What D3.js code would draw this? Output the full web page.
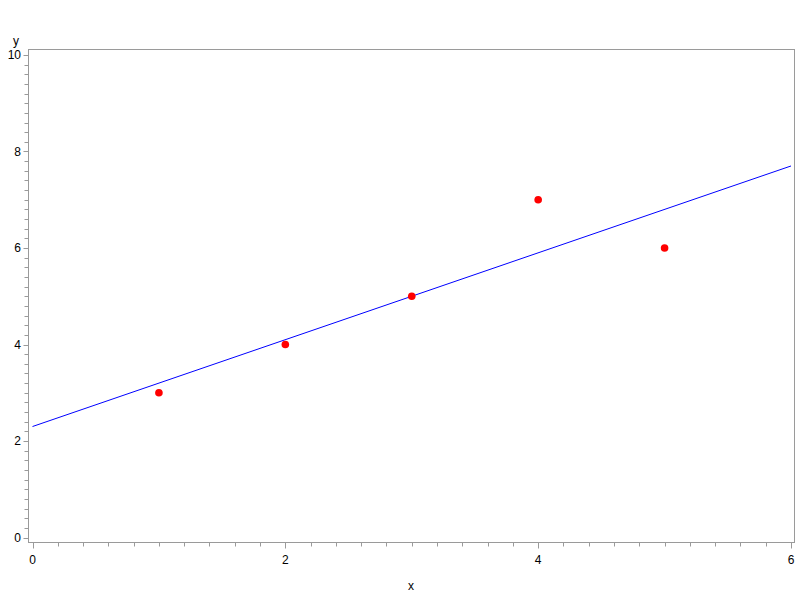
<!DOCTYPE html>
<html>
<head>
<meta charset="utf-8">
<script src="https://cdnjs.cloudflare.com/ajax/libs/d3/7.8.5/d3.min.js"></script>
<style>
	body { margin: 0; background: #fff; }
	text { font-family: "Liberation Sans", Arial, sans-serif; font-size: 12px; fill: #000; }
</style>
</head>
<body>
<div id="chart"></div>
<script>
// observed points
var xs = [1, 2, 3, 4, 5];
var ys = [3, 4, 5, 7, 6];
// fitted line endpoints
var lineX = [0, 6];
var lineY = [2.3, 7.7];
var xTicks = [0, 2, 4, 6];
var yTicks = [0, 2, 4, 6, 8, 10];

var width = 800, height = 600;
var frame = {left: 28.5, right: 794.5, top: 49.5, bottom: 542.5};

var svg = d3.select("#chart").append("svg")
	.attr("width", width)
	.attr("height", height);

var x = d3.scaleLinear().domain([0, 6]).range([32.5, 791]);
var y = d3.scaleLinear().domain([0, 10]).range([537.5, 55]);

// frame
svg.append("rect")
	.attr("x", frame.left).attr("y", frame.top)
	.attr("width", frame.right - frame.left)
	.attr("height", frame.bottom - frame.top)
	.attr("fill", "none")
	.attr("stroke", "#9a9a9a");

function isMajor(list, d) {
	return list.indexOf(Math.round(d * 10) / 10) >= 0;
}

// x ticks (minor every 0.2)
var xMinor = d3.range(0, 6.0001, 0.2);
svg.append("g").selectAll("line").data(xMinor).enter().append("line")
	.attr("x1", function(d) { return Math.round(x(d)) + 0.5; })
	.attr("x2", function(d) { return Math.round(x(d)) + 0.5; })
	.attr("y1", frame.bottom)
	.attr("y2", function(d) { return isMajor(xTicks, d) ? frame.bottom + 6 : frame.bottom + 4; })
	.attr("stroke", "#9a9a9a");

svg.append("g").selectAll("text").data(xTicks).enter().append("text")
	.attr("x", function(d) { return x(d); })
	.attr("y", 564)
	.attr("text-anchor", "middle")
	.text(function(d) { return d; });

// y ticks (minor every 0.2)
var yMinor = d3.range(0, 10.0001, 0.2);
svg.append("g").selectAll("line").data(yMinor).enter().append("line")
	.attr("y1", function(d) { return Math.round(y(d)) + 0.5; })
	.attr("y2", function(d) { return Math.round(y(d)) + 0.5; })
	.attr("x1", frame.left)
	.attr("x2", function(d) { return isMajor(yTicks, d) ? frame.left - 5 : frame.left - 4; })
	.attr("stroke", "#9a9a9a");

svg.append("g").selectAll("text").data(yTicks).enter().append("text")
	.attr("x", 21)
	.attr("y", function(d) { return y(d) + 4; })
	.attr("text-anchor", "end")
	.text(function(d) { return d; });

// axis labels
svg.append("text").attr("x", 411).attr("y", 590).attr("text-anchor", "middle").text("x");
svg.append("text").attr("x", 16).attr("y", 45).attr("text-anchor", "middle").text("y");

// fit line
svg.append("line")
	.attr("x1", x(lineX[0])).attr("y1", y(lineY[0]))
	.attr("x2", x(lineX[1])).attr("y2", y(lineY[1]))
	.attr("stroke", "#0000ff")
	.attr("stroke-width", 1);

// points
svg.append("g").selectAll("circle").data(xs).enter().append("circle")
	.attr("cx", function(d) { return x(d); })
	.attr("cy", function(d, i) { return y(ys[i]); })
	.attr("r", 3.8)
	.attr("fill", "#ff0000");
</script>
</body>
</html>
